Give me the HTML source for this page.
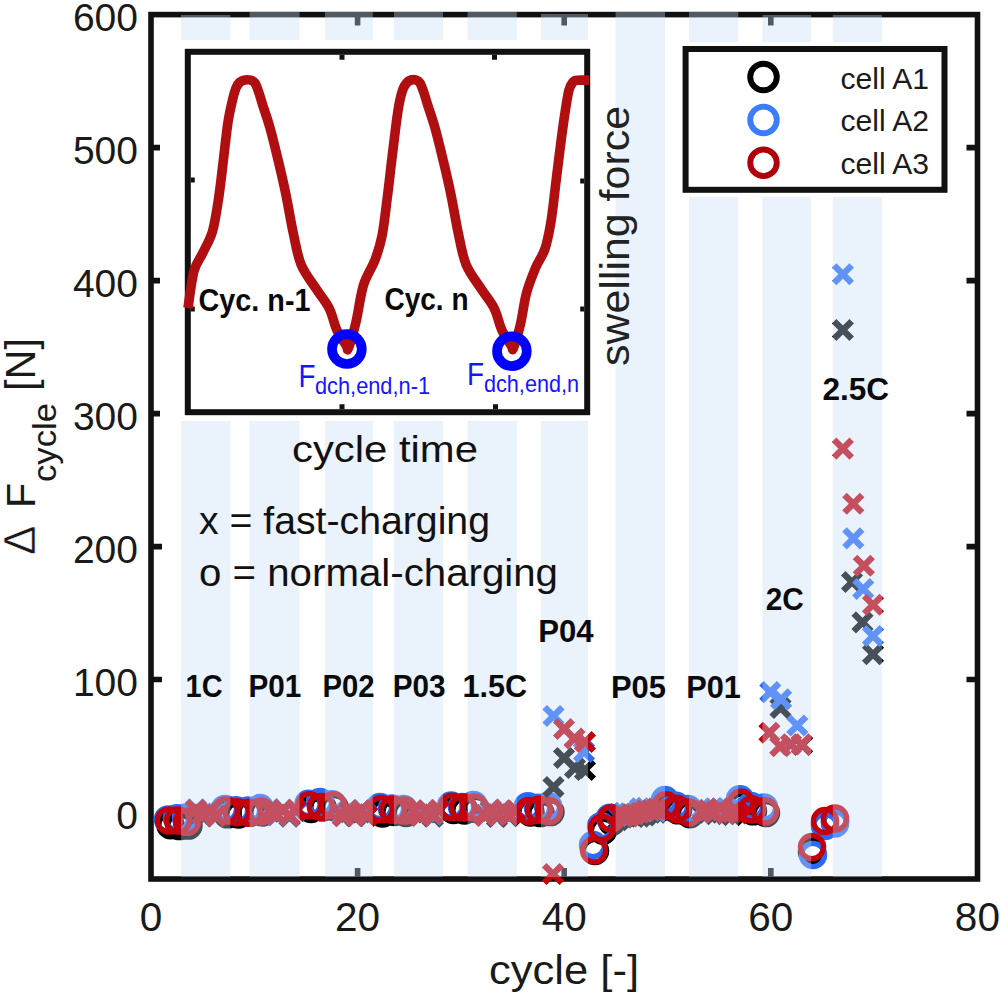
<!DOCTYPE html>
<html><head><meta charset="utf-8"><style>
html,body{margin:0;padding:0;background:#fff;width:1000px;height:999px;overflow:hidden}
svg{display:block}
text{font-family:"Liberation Sans", sans-serif}
</style></head><body>
<svg width="1000" height="999" viewBox="0 0 1000 999">
<rect width="1000" height="999" fill="#fff"/>
<rect x="151" y="14.6" width="826.5" height="864.4" fill="none" stroke="#111" stroke-width="5.6"/>
<path d="M151 679.5h11M977.5 679.5h-11M151 546.6h11M977.5 546.6h-11M151 413.6h11M977.5 413.6h-11M151 280.6h11M977.5 280.6h-11M151 147.6h11M977.5 147.6h-11M357.6 879v-11M357.6 14.6v11M564.2 879v-11M564.2 14.6v11M770.8 879v-11M770.8 14.6v11" stroke="#111" stroke-width="5.6"/>
<circle cx="170.5" cy="825.2" r="11.6" fill="none" stroke="#000000" stroke-width="5.3"/>
<circle cx="179.5" cy="826.1" r="11.6" fill="none" stroke="#000000" stroke-width="5.3"/>
<circle cx="188.5" cy="825.6" r="11.6" fill="none" stroke="#000000" stroke-width="5.3"/>
<circle cx="227.5" cy="814.3" r="11.6" fill="none" stroke="#000000" stroke-width="5.3"/>
<circle cx="238.5" cy="814.4" r="11.6" fill="none" stroke="#000000" stroke-width="5.3"/>
<circle cx="250.5" cy="812.7" r="11.6" fill="none" stroke="#000000" stroke-width="5.3"/>
<circle cx="262.5" cy="812.5" r="11.6" fill="none" stroke="#000000" stroke-width="5.3"/>
<circle cx="311.0" cy="809.0" r="11.6" fill="none" stroke="#000000" stroke-width="5.3"/>
<circle cx="322.5" cy="807.3" r="11.6" fill="none" stroke="#000000" stroke-width="5.3"/>
<circle cx="334.5" cy="807.2" r="11.6" fill="none" stroke="#000000" stroke-width="5.3"/>
<circle cx="382.5" cy="813.5" r="11.6" fill="none" stroke="#000000" stroke-width="5.3"/>
<circle cx="394.5" cy="811.9" r="11.6" fill="none" stroke="#000000" stroke-width="5.3"/>
<circle cx="406.0" cy="813.0" r="11.6" fill="none" stroke="#000000" stroke-width="5.3"/>
<circle cx="453.5" cy="809.9" r="11.6" fill="none" stroke="#000000" stroke-width="5.3"/>
<circle cx="464.5" cy="810.4" r="11.6" fill="none" stroke="#000000" stroke-width="5.3"/>
<circle cx="476.0" cy="809.0" r="11.6" fill="none" stroke="#000000" stroke-width="5.3"/>
<circle cx="530.5" cy="812.4" r="11.6" fill="none" stroke="#000000" stroke-width="5.3"/>
<circle cx="540.5" cy="813.1" r="11.6" fill="none" stroke="#000000" stroke-width="5.3"/>
<circle cx="550.5" cy="812.1" r="11.6" fill="none" stroke="#000000" stroke-width="5.3"/>
<path d="M187.2 803.2L204.8 820.8M187.2 820.8L204.8 803.2" stroke="#000000" stroke-width="6.4" stroke-linecap="butt"/>
<path d="M193.9 807.4L211.5 825.0M193.9 825.0L211.5 807.4" stroke="#000000" stroke-width="6.4" stroke-linecap="butt"/>
<path d="M200.5 801.6L218.1 819.2M200.5 819.2L218.1 801.6" stroke="#000000" stroke-width="6.4" stroke-linecap="butt"/>
<path d="M207.2 807.6L224.8 825.2M207.2 825.2L224.8 807.6" stroke="#000000" stroke-width="6.4" stroke-linecap="butt"/>
<path d="M261.2 802.8L278.8 820.4M261.2 820.4L278.8 802.8" stroke="#000000" stroke-width="6.4" stroke-linecap="butt"/>
<path d="M267.7 806.5L285.3 824.1M267.7 824.1L285.3 806.5" stroke="#000000" stroke-width="6.4" stroke-linecap="butt"/>
<path d="M274.2 801.5L291.8 819.1M274.2 819.1L291.8 801.5" stroke="#000000" stroke-width="6.4" stroke-linecap="butt"/>
<path d="M280.7 807.9L298.3 825.5M280.7 825.5L298.3 807.9" stroke="#000000" stroke-width="6.4" stroke-linecap="butt"/>
<path d="M287.2 802.5L304.8 820.1M287.2 820.1L304.8 802.5" stroke="#000000" stroke-width="6.4" stroke-linecap="butt"/>
<path d="M334.2 807.5L351.8 825.1M334.2 825.1L351.8 807.5" stroke="#000000" stroke-width="6.4" stroke-linecap="butt"/>
<path d="M340.2 803.5L357.8 821.1M340.2 821.1L357.8 803.5" stroke="#000000" stroke-width="6.4" stroke-linecap="butt"/>
<path d="M346.2 807.5L363.8 825.1M346.2 825.1L363.8 807.5" stroke="#000000" stroke-width="6.4" stroke-linecap="butt"/>
<path d="M352.2 803.6L369.8 821.2M352.2 821.2L369.8 803.6" stroke="#000000" stroke-width="6.4" stroke-linecap="butt"/>
<path d="M358.2 806.7L375.8 824.3M358.2 824.3L375.8 806.7" stroke="#000000" stroke-width="6.4" stroke-linecap="butt"/>
<path d="M405.2 803.3L422.8 820.9M405.2 820.9L422.8 803.3" stroke="#000000" stroke-width="6.4" stroke-linecap="butt"/>
<path d="M411.4 806.9L429.1 824.5M411.4 824.5L429.1 806.9" stroke="#000000" stroke-width="6.4" stroke-linecap="butt"/>
<path d="M417.7 803.6L435.3 821.2M417.7 821.2L435.3 803.6" stroke="#000000" stroke-width="6.4" stroke-linecap="butt"/>
<path d="M423.9 807.9L441.6 825.5M423.9 825.5L441.6 807.9" stroke="#000000" stroke-width="6.4" stroke-linecap="butt"/>
<path d="M430.2 801.6L447.8 819.2M430.2 819.2L447.8 801.6" stroke="#000000" stroke-width="6.4" stroke-linecap="butt"/>
<path d="M476.2 806.1L493.8 823.7M476.2 823.7L493.8 806.1" stroke="#000000" stroke-width="6.4" stroke-linecap="butt"/>
<path d="M482.2 801.9L499.8 819.5M482.2 819.5L499.8 801.9" stroke="#000000" stroke-width="6.4" stroke-linecap="butt"/>
<path d="M488.2 808.1L505.8 825.7M488.2 825.7L505.8 808.1" stroke="#000000" stroke-width="6.4" stroke-linecap="butt"/>
<path d="M494.2 802.4L511.8 820.0M494.2 820.0L511.8 802.4" stroke="#000000" stroke-width="6.4" stroke-linecap="butt"/>
<path d="M500.2 807.3L517.8 824.9M500.2 824.9L517.8 807.3" stroke="#000000" stroke-width="6.4" stroke-linecap="butt"/>
<path d="M506.2 802.1L523.8 819.7M506.2 819.7L523.8 802.1" stroke="#000000" stroke-width="6.4" stroke-linecap="butt"/>
<circle cx="595.0" cy="851.0" r="11.6" fill="none" stroke="#000000" stroke-width="5.3"/>
<circle cx="603.0" cy="830.7" r="11.6" fill="none" stroke="#000000" stroke-width="5.3"/>
<circle cx="612.0" cy="821.6" r="11.6" fill="none" stroke="#000000" stroke-width="5.3"/>
<circle cx="667.0" cy="806.3" r="11.6" fill="none" stroke="#000000" stroke-width="5.3"/>
<circle cx="678.0" cy="810.3" r="11.6" fill="none" stroke="#000000" stroke-width="5.3"/>
<circle cx="690.0" cy="814.2" r="11.6" fill="none" stroke="#000000" stroke-width="5.3"/>
<circle cx="742.0" cy="805.5" r="11.6" fill="none" stroke="#000000" stroke-width="5.3"/>
<circle cx="753.0" cy="811.3" r="11.6" fill="none" stroke="#000000" stroke-width="5.3"/>
<circle cx="766.0" cy="813.1" r="11.6" fill="none" stroke="#000000" stroke-width="5.3"/>
<path d="M609.2 811.3L626.8 828.9M609.2 828.9L626.8 811.3" stroke="#000000" stroke-width="6.4" stroke-linecap="butt"/>
<path d="M614.7 808.6L632.3 826.2M614.7 826.2L632.3 808.6" stroke="#000000" stroke-width="6.4" stroke-linecap="butt"/>
<path d="M620.2 804.7L637.8 822.3M620.2 822.3L637.8 804.7" stroke="#000000" stroke-width="6.4" stroke-linecap="butt"/>
<path d="M625.7 808.1L643.3 825.7M625.7 825.7L643.3 808.1" stroke="#000000" stroke-width="6.4" stroke-linecap="butt"/>
<path d="M631.2 807.9L648.8 825.5M631.2 825.5L648.8 807.9" stroke="#000000" stroke-width="6.4" stroke-linecap="butt"/>
<path d="M636.7 806.7L654.3 824.3M636.7 824.3L654.3 806.7" stroke="#000000" stroke-width="6.4" stroke-linecap="butt"/>
<path d="M642.2 803.9L659.8 821.5M642.2 821.5L659.8 803.9" stroke="#000000" stroke-width="6.4" stroke-linecap="butt"/>
<path d="M647.7 803.9L665.3 821.5M647.7 821.5L665.3 803.9" stroke="#000000" stroke-width="6.4" stroke-linecap="butt"/>
<path d="M653.2 801.7L670.8 819.3M653.2 819.3L670.8 801.7" stroke="#000000" stroke-width="6.4" stroke-linecap="butt"/>
<path d="M693.2 805.4L710.8 823.0M693.2 823.0L710.8 805.4" stroke="#000000" stroke-width="6.4" stroke-linecap="butt"/>
<path d="M699.2 803.8L716.8 821.4M699.2 821.4L716.8 803.8" stroke="#000000" stroke-width="6.4" stroke-linecap="butt"/>
<path d="M705.2 802.1L722.8 819.7M705.2 819.7L722.8 802.1" stroke="#000000" stroke-width="6.4" stroke-linecap="butt"/>
<path d="M711.2 800.8L728.8 818.4M711.2 818.4L728.8 800.8" stroke="#000000" stroke-width="6.4" stroke-linecap="butt"/>
<path d="M717.2 805.5L734.8 823.1M717.2 823.1L734.8 805.5" stroke="#000000" stroke-width="6.4" stroke-linecap="butt"/>
<path d="M723.2 806.3L740.8 823.9M723.2 823.9L740.8 806.3" stroke="#000000" stroke-width="6.4" stroke-linecap="butt"/>
<path d="M729.2 800.9L746.8 818.5M729.2 818.5L746.8 800.9" stroke="#000000" stroke-width="6.4" stroke-linecap="butt"/>
<circle cx="168.0" cy="819.4" r="11.6" fill="none" stroke="#2a6af5" stroke-width="5.3"/>
<circle cx="177.0" cy="818.2" r="11.6" fill="none" stroke="#2a6af5" stroke-width="5.3"/>
<circle cx="186.0" cy="817.5" r="11.6" fill="none" stroke="#2a6af5" stroke-width="5.3"/>
<circle cx="225.0" cy="808.9" r="11.6" fill="none" stroke="#2a6af5" stroke-width="5.3"/>
<circle cx="236.0" cy="810.3" r="11.6" fill="none" stroke="#2a6af5" stroke-width="5.3"/>
<circle cx="248.0" cy="810.6" r="11.6" fill="none" stroke="#2a6af5" stroke-width="5.3"/>
<circle cx="260.0" cy="808.1" r="11.6" fill="none" stroke="#2a6af5" stroke-width="5.3"/>
<circle cx="308.5" cy="803.8" r="11.6" fill="none" stroke="#2a6af5" stroke-width="5.3"/>
<circle cx="320.0" cy="802.1" r="11.6" fill="none" stroke="#2a6af5" stroke-width="5.3"/>
<circle cx="332.0" cy="804.2" r="11.6" fill="none" stroke="#2a6af5" stroke-width="5.3"/>
<circle cx="380.0" cy="807.0" r="11.6" fill="none" stroke="#2a6af5" stroke-width="5.3"/>
<circle cx="392.0" cy="808.6" r="11.6" fill="none" stroke="#2a6af5" stroke-width="5.3"/>
<circle cx="403.5" cy="808.9" r="11.6" fill="none" stroke="#2a6af5" stroke-width="5.3"/>
<circle cx="451.0" cy="805.5" r="11.6" fill="none" stroke="#2a6af5" stroke-width="5.3"/>
<circle cx="462.0" cy="807.0" r="11.6" fill="none" stroke="#2a6af5" stroke-width="5.3"/>
<circle cx="473.5" cy="804.9" r="11.6" fill="none" stroke="#2a6af5" stroke-width="5.3"/>
<circle cx="528.0" cy="806.2" r="11.6" fill="none" stroke="#2a6af5" stroke-width="5.3"/>
<circle cx="538.0" cy="807.8" r="11.6" fill="none" stroke="#2a6af5" stroke-width="5.3"/>
<circle cx="548.0" cy="806.1" r="11.6" fill="none" stroke="#2a6af5" stroke-width="5.3"/>
<path d="M187.2 800.5L204.8 818.1M187.2 818.1L204.8 800.5" stroke="#2a6af5" stroke-width="6.4" stroke-linecap="butt"/>
<path d="M193.9 805.4L211.5 823.0M193.9 823.0L211.5 805.4" stroke="#2a6af5" stroke-width="6.4" stroke-linecap="butt"/>
<path d="M200.5 801.5L218.1 819.1M200.5 819.1L218.1 801.5" stroke="#2a6af5" stroke-width="6.4" stroke-linecap="butt"/>
<path d="M207.2 804.8L224.8 822.4M207.2 822.4L224.8 804.8" stroke="#2a6af5" stroke-width="6.4" stroke-linecap="butt"/>
<path d="M261.2 800.2L278.8 817.8M261.2 817.8L278.8 800.2" stroke="#2a6af5" stroke-width="6.4" stroke-linecap="butt"/>
<path d="M267.7 806.5L285.3 824.1M267.7 824.1L285.3 806.5" stroke="#2a6af5" stroke-width="6.4" stroke-linecap="butt"/>
<path d="M274.2 800.8L291.8 818.4M274.2 818.4L291.8 800.8" stroke="#2a6af5" stroke-width="6.4" stroke-linecap="butt"/>
<path d="M280.7 806.8L298.3 824.4M280.7 824.4L298.3 806.8" stroke="#2a6af5" stroke-width="6.4" stroke-linecap="butt"/>
<path d="M287.2 802.2L304.8 819.8M287.2 819.8L304.8 802.2" stroke="#2a6af5" stroke-width="6.4" stroke-linecap="butt"/>
<path d="M334.2 805.4L351.8 823.0M334.2 823.0L351.8 805.4" stroke="#2a6af5" stroke-width="6.4" stroke-linecap="butt"/>
<path d="M340.2 801.2L357.8 818.8M340.2 818.8L357.8 801.2" stroke="#2a6af5" stroke-width="6.4" stroke-linecap="butt"/>
<path d="M346.2 805.7L363.8 823.3M346.2 823.3L363.8 805.7" stroke="#2a6af5" stroke-width="6.4" stroke-linecap="butt"/>
<path d="M352.2 801.6L369.8 819.2M352.2 819.2L369.8 801.6" stroke="#2a6af5" stroke-width="6.4" stroke-linecap="butt"/>
<path d="M358.2 805.9L375.8 823.5M358.2 823.5L375.8 805.9" stroke="#2a6af5" stroke-width="6.4" stroke-linecap="butt"/>
<path d="M405.2 801.4L422.8 819.0M405.2 819.0L422.8 801.4" stroke="#2a6af5" stroke-width="6.4" stroke-linecap="butt"/>
<path d="M411.4 805.9L429.1 823.5M411.4 823.5L429.1 805.9" stroke="#2a6af5" stroke-width="6.4" stroke-linecap="butt"/>
<path d="M417.7 802.3L435.3 819.9M417.7 819.9L435.3 802.3" stroke="#2a6af5" stroke-width="6.4" stroke-linecap="butt"/>
<path d="M423.9 805.7L441.6 823.3M423.9 823.3L441.6 805.7" stroke="#2a6af5" stroke-width="6.4" stroke-linecap="butt"/>
<path d="M430.2 801.1L447.8 818.7M430.2 818.7L447.8 801.1" stroke="#2a6af5" stroke-width="6.4" stroke-linecap="butt"/>
<path d="M476.2 806.2L493.8 823.8M476.2 823.8L493.8 806.2" stroke="#2a6af5" stroke-width="6.4" stroke-linecap="butt"/>
<path d="M482.2 800.6L499.8 818.2M482.2 818.2L499.8 800.6" stroke="#2a6af5" stroke-width="6.4" stroke-linecap="butt"/>
<path d="M488.2 805.2L505.8 822.8M488.2 822.8L505.8 805.2" stroke="#2a6af5" stroke-width="6.4" stroke-linecap="butt"/>
<path d="M494.2 802.4L511.8 820.0M494.2 820.0L511.8 802.4" stroke="#2a6af5" stroke-width="6.4" stroke-linecap="butt"/>
<path d="M500.2 805.7L517.8 823.3M500.2 823.3L517.8 805.7" stroke="#2a6af5" stroke-width="6.4" stroke-linecap="butt"/>
<path d="M506.2 801.4L523.8 819.0M506.2 819.0L523.8 801.4" stroke="#2a6af5" stroke-width="6.4" stroke-linecap="butt"/>
<circle cx="593.0" cy="845.0" r="11.6" fill="none" stroke="#2a6af5" stroke-width="5.3"/>
<circle cx="601.0" cy="826.2" r="11.6" fill="none" stroke="#2a6af5" stroke-width="5.3"/>
<circle cx="610.0" cy="817.7" r="11.6" fill="none" stroke="#2a6af5" stroke-width="5.3"/>
<circle cx="665.0" cy="800.1" r="11.6" fill="none" stroke="#2a6af5" stroke-width="5.3"/>
<circle cx="676.0" cy="805.8" r="11.6" fill="none" stroke="#2a6af5" stroke-width="5.3"/>
<circle cx="688.0" cy="808.9" r="11.6" fill="none" stroke="#2a6af5" stroke-width="5.3"/>
<circle cx="740.0" cy="799.2" r="11.6" fill="none" stroke="#2a6af5" stroke-width="5.3"/>
<circle cx="751.0" cy="805.9" r="11.6" fill="none" stroke="#2a6af5" stroke-width="5.3"/>
<circle cx="764.0" cy="807.4" r="11.6" fill="none" stroke="#2a6af5" stroke-width="5.3"/>
<path d="M609.2 806.8L626.8 824.4M609.2 824.4L626.8 806.8" stroke="#2a6af5" stroke-width="6.4" stroke-linecap="butt"/>
<path d="M614.7 804.0L632.3 821.6M614.7 821.6L632.3 804.0" stroke="#2a6af5" stroke-width="6.4" stroke-linecap="butt"/>
<path d="M620.2 805.3L637.8 822.9M620.2 822.9L637.8 805.3" stroke="#2a6af5" stroke-width="6.4" stroke-linecap="butt"/>
<path d="M625.7 804.7L643.3 822.3M625.7 822.3L643.3 804.7" stroke="#2a6af5" stroke-width="6.4" stroke-linecap="butt"/>
<path d="M631.2 799.5L648.8 817.1M631.2 817.1L648.8 799.5" stroke="#2a6af5" stroke-width="6.4" stroke-linecap="butt"/>
<path d="M636.7 798.9L654.3 816.5M636.7 816.5L654.3 798.9" stroke="#2a6af5" stroke-width="6.4" stroke-linecap="butt"/>
<path d="M642.2 801.8L659.8 819.4M642.2 819.4L659.8 801.8" stroke="#2a6af5" stroke-width="6.4" stroke-linecap="butt"/>
<path d="M647.7 802.7L665.3 820.3M647.7 820.3L665.3 802.7" stroke="#2a6af5" stroke-width="6.4" stroke-linecap="butt"/>
<path d="M653.2 799.2L670.8 816.8M653.2 816.8L670.8 799.2" stroke="#2a6af5" stroke-width="6.4" stroke-linecap="butt"/>
<path d="M693.2 800.4L710.8 818.0M693.2 818.0L710.8 800.4" stroke="#2a6af5" stroke-width="6.4" stroke-linecap="butt"/>
<path d="M699.2 801.3L716.8 818.9M699.2 818.9L716.8 801.3" stroke="#2a6af5" stroke-width="6.4" stroke-linecap="butt"/>
<path d="M705.2 799.6L722.8 817.2M705.2 817.2L722.8 799.6" stroke="#2a6af5" stroke-width="6.4" stroke-linecap="butt"/>
<path d="M711.2 799.9L728.8 817.5M711.2 817.5L728.8 799.9" stroke="#2a6af5" stroke-width="6.4" stroke-linecap="butt"/>
<path d="M717.2 799.6L734.8 817.2M717.2 817.2L734.8 799.6" stroke="#2a6af5" stroke-width="6.4" stroke-linecap="butt"/>
<path d="M723.2 799.9L740.8 817.5M723.2 817.5L740.8 799.9" stroke="#2a6af5" stroke-width="6.4" stroke-linecap="butt"/>
<path d="M729.2 801.3L746.8 818.9M729.2 818.9L746.8 801.3" stroke="#2a6af5" stroke-width="6.4" stroke-linecap="butt"/>
<circle cx="169.0" cy="820.4" r="11.6" fill="none" stroke="#c4000a" stroke-width="5.3"/>
<circle cx="178.0" cy="820.6" r="11.6" fill="none" stroke="#c4000a" stroke-width="5.3"/>
<circle cx="187.0" cy="821.8" r="11.6" fill="none" stroke="#c4000a" stroke-width="5.3"/>
<circle cx="226.0" cy="810.6" r="11.6" fill="none" stroke="#c4000a" stroke-width="5.3"/>
<circle cx="237.0" cy="812.2" r="11.6" fill="none" stroke="#c4000a" stroke-width="5.3"/>
<circle cx="249.0" cy="812.7" r="11.6" fill="none" stroke="#c4000a" stroke-width="5.3"/>
<circle cx="261.0" cy="811.4" r="11.6" fill="none" stroke="#c4000a" stroke-width="5.3"/>
<circle cx="309.5" cy="805.2" r="11.6" fill="none" stroke="#c4000a" stroke-width="5.3"/>
<circle cx="321.0" cy="806.9" r="11.6" fill="none" stroke="#c4000a" stroke-width="5.3"/>
<circle cx="333.0" cy="805.2" r="11.6" fill="none" stroke="#c4000a" stroke-width="5.3"/>
<circle cx="381.0" cy="809.1" r="11.6" fill="none" stroke="#c4000a" stroke-width="5.3"/>
<circle cx="393.0" cy="809.8" r="11.6" fill="none" stroke="#c4000a" stroke-width="5.3"/>
<circle cx="404.5" cy="810.6" r="11.6" fill="none" stroke="#c4000a" stroke-width="5.3"/>
<circle cx="452.0" cy="806.8" r="11.6" fill="none" stroke="#c4000a" stroke-width="5.3"/>
<circle cx="463.0" cy="807.5" r="11.6" fill="none" stroke="#c4000a" stroke-width="5.3"/>
<circle cx="474.5" cy="807.5" r="11.6" fill="none" stroke="#c4000a" stroke-width="5.3"/>
<circle cx="529.0" cy="811.0" r="11.6" fill="none" stroke="#c4000a" stroke-width="5.3"/>
<circle cx="539.0" cy="809.8" r="11.6" fill="none" stroke="#c4000a" stroke-width="5.3"/>
<circle cx="549.0" cy="811.1" r="11.6" fill="none" stroke="#c4000a" stroke-width="5.3"/>
<path d="M187.2 801.2L204.8 818.8M187.2 818.8L204.8 801.2" stroke="#c4000a" stroke-width="6.4" stroke-linecap="butt"/>
<path d="M193.9 806.0L211.5 823.6M193.9 823.6L211.5 806.0" stroke="#c4000a" stroke-width="6.4" stroke-linecap="butt"/>
<path d="M200.5 802.4L218.1 820.0M200.5 820.0L218.1 802.4" stroke="#c4000a" stroke-width="6.4" stroke-linecap="butt"/>
<path d="M207.2 807.3L224.8 824.9M207.2 824.9L224.8 807.3" stroke="#c4000a" stroke-width="6.4" stroke-linecap="butt"/>
<path d="M261.2 801.9L278.8 819.5M261.2 819.5L278.8 801.9" stroke="#c4000a" stroke-width="6.4" stroke-linecap="butt"/>
<path d="M267.7 805.7L285.3 823.3M267.7 823.3L285.3 805.7" stroke="#c4000a" stroke-width="6.4" stroke-linecap="butt"/>
<path d="M274.2 801.1L291.8 818.7M274.2 818.7L291.8 801.1" stroke="#c4000a" stroke-width="6.4" stroke-linecap="butt"/>
<path d="M280.7 806.5L298.3 824.1M280.7 824.1L298.3 806.5" stroke="#c4000a" stroke-width="6.4" stroke-linecap="butt"/>
<path d="M287.2 801.3L304.8 818.9M287.2 818.9L304.8 801.3" stroke="#c4000a" stroke-width="6.4" stroke-linecap="butt"/>
<path d="M334.2 807.1L351.8 824.7M334.2 824.7L351.8 807.1" stroke="#c4000a" stroke-width="6.4" stroke-linecap="butt"/>
<path d="M340.2 802.8L357.8 820.4M340.2 820.4L357.8 802.8" stroke="#c4000a" stroke-width="6.4" stroke-linecap="butt"/>
<path d="M346.2 805.6L363.8 823.2M346.2 823.2L363.8 805.6" stroke="#c4000a" stroke-width="6.4" stroke-linecap="butt"/>
<path d="M352.2 801.5L369.8 819.1M352.2 819.1L369.8 801.5" stroke="#c4000a" stroke-width="6.4" stroke-linecap="butt"/>
<path d="M358.2 807.1L375.8 824.7M358.2 824.7L375.8 807.1" stroke="#c4000a" stroke-width="6.4" stroke-linecap="butt"/>
<path d="M405.2 802.3L422.8 819.9M405.2 819.9L422.8 802.3" stroke="#c4000a" stroke-width="6.4" stroke-linecap="butt"/>
<path d="M411.4 807.1L429.1 824.7M411.4 824.7L429.1 807.1" stroke="#c4000a" stroke-width="6.4" stroke-linecap="butt"/>
<path d="M417.7 801.6L435.3 819.2M417.7 819.2L435.3 801.6" stroke="#c4000a" stroke-width="6.4" stroke-linecap="butt"/>
<path d="M423.9 805.5L441.6 823.1M423.9 823.1L441.6 805.5" stroke="#c4000a" stroke-width="6.4" stroke-linecap="butt"/>
<path d="M430.2 801.5L447.8 819.1M430.2 819.1L447.8 801.5" stroke="#c4000a" stroke-width="6.4" stroke-linecap="butt"/>
<path d="M476.2 807.1L493.8 824.7M476.2 824.7L493.8 807.1" stroke="#c4000a" stroke-width="6.4" stroke-linecap="butt"/>
<path d="M482.2 801.5L499.8 819.1M482.2 819.1L499.8 801.5" stroke="#c4000a" stroke-width="6.4" stroke-linecap="butt"/>
<path d="M488.2 806.0L505.8 823.6M488.2 823.6L505.8 806.0" stroke="#c4000a" stroke-width="6.4" stroke-linecap="butt"/>
<path d="M494.2 801.8L511.8 819.4M494.2 819.4L511.8 801.8" stroke="#c4000a" stroke-width="6.4" stroke-linecap="butt"/>
<path d="M500.2 806.2L517.8 823.8M500.2 823.8L517.8 806.2" stroke="#c4000a" stroke-width="6.4" stroke-linecap="butt"/>
<path d="M506.2 801.8L523.8 819.4M506.2 819.4L523.8 801.8" stroke="#c4000a" stroke-width="6.4" stroke-linecap="butt"/>
<circle cx="594.0" cy="850.3" r="11.6" fill="none" stroke="#c4000a" stroke-width="5.3"/>
<circle cx="602.0" cy="828.0" r="11.6" fill="none" stroke="#c4000a" stroke-width="5.3"/>
<circle cx="611.0" cy="818.5" r="11.6" fill="none" stroke="#c4000a" stroke-width="5.3"/>
<circle cx="666.0" cy="805.3" r="11.6" fill="none" stroke="#c4000a" stroke-width="5.3"/>
<circle cx="677.0" cy="809.1" r="11.6" fill="none" stroke="#c4000a" stroke-width="5.3"/>
<circle cx="689.0" cy="812.5" r="11.6" fill="none" stroke="#c4000a" stroke-width="5.3"/>
<circle cx="741.0" cy="802.8" r="11.6" fill="none" stroke="#c4000a" stroke-width="5.3"/>
<circle cx="752.0" cy="809.4" r="11.6" fill="none" stroke="#c4000a" stroke-width="5.3"/>
<circle cx="765.0" cy="811.3" r="11.6" fill="none" stroke="#c4000a" stroke-width="5.3"/>
<path d="M609.2 805.5L626.8 823.1M609.2 823.1L626.8 805.5" stroke="#c4000a" stroke-width="6.4" stroke-linecap="butt"/>
<path d="M614.7 807.8L632.3 825.4M614.7 825.4L632.3 807.8" stroke="#c4000a" stroke-width="6.4" stroke-linecap="butt"/>
<path d="M620.2 807.6L637.8 825.2M620.2 825.2L637.8 807.6" stroke="#c4000a" stroke-width="6.4" stroke-linecap="butt"/>
<path d="M625.7 805.7L643.3 823.3M625.7 823.3L643.3 805.7" stroke="#c4000a" stroke-width="6.4" stroke-linecap="butt"/>
<path d="M631.2 804.0L648.8 821.6M631.2 821.6L648.8 804.0" stroke="#c4000a" stroke-width="6.4" stroke-linecap="butt"/>
<path d="M636.7 801.8L654.3 819.4M636.7 819.4L654.3 801.8" stroke="#c4000a" stroke-width="6.4" stroke-linecap="butt"/>
<path d="M642.2 801.3L659.8 818.9M642.2 818.9L659.8 801.3" stroke="#c4000a" stroke-width="6.4" stroke-linecap="butt"/>
<path d="M647.7 799.8L665.3 817.4M647.7 817.4L665.3 799.8" stroke="#c4000a" stroke-width="6.4" stroke-linecap="butt"/>
<path d="M653.2 799.6L670.8 817.2M653.2 817.2L670.8 799.6" stroke="#c4000a" stroke-width="6.4" stroke-linecap="butt"/>
<path d="M693.2 802.7L710.8 820.3M693.2 820.3L710.8 802.7" stroke="#c4000a" stroke-width="6.4" stroke-linecap="butt"/>
<path d="M699.2 800.9L716.8 818.5M699.2 818.5L716.8 800.9" stroke="#c4000a" stroke-width="6.4" stroke-linecap="butt"/>
<path d="M705.2 804.1L722.8 821.7M705.2 821.7L722.8 804.1" stroke="#c4000a" stroke-width="6.4" stroke-linecap="butt"/>
<path d="M711.2 799.5L728.8 817.1M711.2 817.1L728.8 799.5" stroke="#c4000a" stroke-width="6.4" stroke-linecap="butt"/>
<path d="M717.2 804.6L734.8 822.2M717.2 822.2L734.8 804.6" stroke="#c4000a" stroke-width="6.4" stroke-linecap="butt"/>
<path d="M723.2 803.4L740.8 821.0M723.2 821.0L740.8 803.4" stroke="#c4000a" stroke-width="6.4" stroke-linecap="butt"/>
<path d="M729.2 804.7L746.8 822.3M729.2 822.3L746.8 804.7" stroke="#c4000a" stroke-width="6.4" stroke-linecap="butt"/>
<path d="M544.7 778.2L562.3 795.8M544.7 795.8L562.3 778.2" stroke="#000000" stroke-width="6.4" stroke-linecap="butt"/>
<path d="M555.2 749.2L572.8 766.8M555.2 766.8L572.8 749.2" stroke="#000000" stroke-width="6.4" stroke-linecap="butt"/>
<path d="M566.2 759.2L583.8 776.8M566.2 776.8L583.8 759.2" stroke="#000000" stroke-width="6.4" stroke-linecap="butt"/>
<path d="M576.2 761.2L593.8 778.8M576.2 778.8L593.8 761.2" stroke="#000000" stroke-width="6.4" stroke-linecap="butt"/>
<path d="M544.7 707.2L562.3 724.8M544.7 724.8L562.3 707.2" stroke="#2a6af5" stroke-width="6.4" stroke-linecap="butt"/>
<path d="M575.2 743.2L592.8 760.8M575.2 760.8L592.8 743.2" stroke="#2a6af5" stroke-width="6.4" stroke-linecap="butt"/>
<path d="M555.2 720.2L572.8 737.8M555.2 737.8L572.8 720.2" stroke="#c4000a" stroke-width="6.4" stroke-linecap="butt"/>
<path d="M565.7 729.7L583.3 747.3M565.7 747.3L583.3 729.7" stroke="#c4000a" stroke-width="6.4" stroke-linecap="butt"/>
<path d="M576.2 733.2L593.8 750.8M576.2 750.8L593.8 733.2" stroke="#c4000a" stroke-width="6.4" stroke-linecap="butt"/>
<path d="M544.2 865.2L561.8 882.8M544.2 882.8L561.8 865.2" stroke="#c4000a" stroke-width="6.4" stroke-linecap="butt"/>
<path d="M771.7 699.2L789.3 716.8M771.7 716.8L789.3 699.2" stroke="#000000" stroke-width="6.4" stroke-linecap="butt"/>
<path d="M793.2 736.2L810.8 753.8M793.2 753.8L810.8 736.2" stroke="#000000" stroke-width="6.4" stroke-linecap="butt"/>
<path d="M761.5 683.3L779.1 700.9M761.5 700.9L779.1 683.3" stroke="#2a6af5" stroke-width="6.4" stroke-linecap="butt"/>
<path d="M772.3 690.5L789.9 708.1M772.3 708.1L789.9 690.5" stroke="#2a6af5" stroke-width="6.4" stroke-linecap="butt"/>
<path d="M788.5 716.7L806.1 734.3M788.5 734.3L806.1 716.7" stroke="#2a6af5" stroke-width="6.4" stroke-linecap="butt"/>
<path d="M760.6 723.9L778.2 741.5M760.6 741.5L778.2 723.9" stroke="#c4000a" stroke-width="6.4" stroke-linecap="butt"/>
<path d="M771.4 737.4L789.0 755.0M771.4 755.0L789.0 737.4" stroke="#c4000a" stroke-width="6.4" stroke-linecap="butt"/>
<path d="M782.2 735.6L799.8 753.2M782.2 753.2L799.8 735.6" stroke="#c4000a" stroke-width="6.4" stroke-linecap="butt"/>
<path d="M793.0 735.6L810.6 753.2M793.0 753.2L810.6 735.6" stroke="#c4000a" stroke-width="6.4" stroke-linecap="butt"/>
<path d="M834.1 321.2L851.7 338.8M834.1 338.8L851.7 321.2" stroke="#000000" stroke-width="6.4" stroke-linecap="butt"/>
<path d="M843.2 573.2L860.8 590.8M843.2 590.8L860.8 573.2" stroke="#000000" stroke-width="6.4" stroke-linecap="butt"/>
<path d="M853.7 613.6L871.3 631.2M853.7 631.2L871.3 613.6" stroke="#000000" stroke-width="6.4" stroke-linecap="butt"/>
<path d="M864.2 645.4L881.8 663.0M864.2 663.0L881.8 645.4" stroke="#000000" stroke-width="6.4" stroke-linecap="butt"/>
<path d="M834.1 265.4L851.7 283.0M834.1 283.0L851.7 265.4" stroke="#2a6af5" stroke-width="6.4" stroke-linecap="butt"/>
<path d="M844.5 529.6L862.1 547.2M844.5 547.2L862.1 529.6" stroke="#2a6af5" stroke-width="6.4" stroke-linecap="butt"/>
<path d="M854.4 580.2L872.0 597.8M854.4 597.8L872.0 580.2" stroke="#2a6af5" stroke-width="6.4" stroke-linecap="butt"/>
<path d="M864.2 627.2L881.8 644.8M864.2 644.8L881.8 627.2" stroke="#2a6af5" stroke-width="6.4" stroke-linecap="butt"/>
<path d="M834.1 439.8L851.7 457.4M834.1 457.4L851.7 439.8" stroke="#c4000a" stroke-width="6.4" stroke-linecap="butt"/>
<path d="M844.5 495.0L862.1 512.6M844.5 512.6L862.1 495.0" stroke="#c4000a" stroke-width="6.4" stroke-linecap="butt"/>
<path d="M855.0 556.9L872.6 574.5M855.0 574.5L872.6 556.9" stroke="#c4000a" stroke-width="6.4" stroke-linecap="butt"/>
<path d="M864.2 595.9L881.8 613.5M864.2 613.5L881.8 595.9" stroke="#c4000a" stroke-width="6.4" stroke-linecap="butt"/>
<circle cx="812.0" cy="851.8" r="11.6" fill="none" stroke="#000000" stroke-width="5.3"/>
<circle cx="825.0" cy="824.0" r="11.6" fill="none" stroke="#000000" stroke-width="5.3"/>
<circle cx="835.0" cy="821.5" r="11.6" fill="none" stroke="#000000" stroke-width="5.3"/>
<circle cx="813.0" cy="855.0" r="11.6" fill="none" stroke="#2a6af5" stroke-width="5.3"/>
<circle cx="825.0" cy="826.0" r="11.6" fill="none" stroke="#2a6af5" stroke-width="5.3"/>
<circle cx="835.0" cy="823.5" r="11.6" fill="none" stroke="#2a6af5" stroke-width="5.3"/>
<circle cx="812.0" cy="847.0" r="11.6" fill="none" stroke="#c4000a" stroke-width="5.3"/>
<circle cx="825.0" cy="821.0" r="11.6" fill="none" stroke="#c4000a" stroke-width="5.3"/>
<circle cx="835.0" cy="818.5" r="11.6" fill="none" stroke="#c4000a" stroke-width="5.3"/>
<rect x="181" y="15" width="49.4" height="862" fill="rgba(196,219,246,0.36)"/>
<rect x="249.6" y="12" width="50.0" height="865" fill="rgba(196,219,246,0.36)"/>
<rect x="325" y="12" width="47.8" height="865" fill="rgba(196,219,246,0.36)"/>
<rect x="394" y="12" width="49.0" height="865" fill="rgba(196,219,246,0.36)"/>
<rect x="467.6" y="12" width="49.2" height="865" fill="rgba(196,219,246,0.36)"/>
<rect x="541" y="14" width="47.0" height="863" fill="rgba(196,219,246,0.36)"/>
<rect x="615.6" y="12" width="49.4" height="865" fill="rgba(196,219,246,0.36)"/>
<rect x="689" y="12" width="49.2" height="865" fill="rgba(196,219,246,0.36)"/>
<rect x="762.5" y="15" width="48.7" height="862" fill="rgba(196,219,246,0.36)"/>
<rect x="832.8" y="15" width="49.2" height="862" fill="rgba(196,219,246,0.36)"/>
<rect x="160" y="40" width="440" height="381" fill="#fff"/>
<rect x="187.8" y="51.8" width="399.4" height="360.4" fill="none" stroke="#111" stroke-width="6"/>
<path d="M342 54.8v5M494.5 54.8v5M342 409.2v-5M495.5 409.2v-5M190.8 180h4M190.8 309h4M584.2 181h-4M584.2 309h-4" stroke="#111" stroke-width="5"/>
<path d="M188.0 308.0C189.0 301.8 191.5 280.2 194.0 271.0C196.5 261.8 199.9 259.2 203.0 252.5C206.1 245.8 210.0 240.2 212.6 231.0C215.2 221.8 217.0 209.0 218.8 197.0C220.6 185.0 222.0 171.5 223.5 159.0C225.0 146.5 226.5 131.8 228.0 122.0C229.5 112.2 231.2 105.7 232.5 100.0C233.8 94.3 234.8 91.0 236.0 88.0C237.2 85.0 238.5 83.3 240.0 82.0C241.5 80.7 243.3 80.3 245.0 80.0C246.7 79.7 248.3 79.5 250.0 80.0C251.7 80.5 253.5 80.8 255.0 83.0C256.5 85.2 257.7 89.2 259.0 93.0C260.3 96.8 261.1 100.1 263.0 106.0C264.9 111.9 267.6 119.4 270.1 128.3C272.6 137.2 275.3 148.5 277.9 159.3C280.5 170.2 283.1 181.0 285.7 193.4C288.3 205.8 290.8 221.8 293.4 233.7C296.0 245.6 297.3 255.5 301.2 264.8C305.1 274.1 312.0 282.4 316.7 289.6C321.4 296.8 325.8 301.5 329.1 308.2C332.5 314.9 334.0 323.8 336.8 330.0C339.6 336.2 344.2 342.5 346.2 345.5C348.1 348.5 346.9 351.9 348.5 348.0C350.1 344.1 353.5 332.5 356.0 322.0C358.5 311.5 360.3 295.3 363.5 285.0C366.7 274.7 371.9 268.2 375.0 260.0C378.1 251.8 380.0 246.0 382.0 236.0C384.0 226.0 385.4 212.3 387.0 200.0C388.6 187.7 390.0 174.5 391.5 162.0C393.0 149.5 394.7 135.0 396.0 125.0C397.3 115.0 398.3 108.0 399.5 102.0C400.7 96.0 401.8 92.2 403.0 89.0C404.2 85.8 405.7 84.0 407.0 82.5C408.3 81.0 409.5 80.4 411.0 80.0C412.5 79.6 414.5 79.5 416.0 80.0C417.5 80.5 418.7 80.8 420.0 83.0C421.3 85.2 422.7 89.2 424.0 93.0C425.3 96.8 426.1 100.1 428.0 106.0C429.9 111.9 432.6 119.4 435.1 128.3C437.6 137.2 440.3 148.5 442.9 159.3C445.5 170.2 448.1 181.0 450.7 193.4C453.3 205.8 455.8 221.8 458.4 233.7C461.0 245.6 462.3 255.5 466.2 264.8C470.1 274.1 477.0 282.4 481.7 289.6C486.4 296.8 490.8 301.5 494.1 308.2C497.5 314.9 499.0 323.8 501.8 330.0C504.6 336.2 509.2 342.5 511.2 345.5C513.1 348.5 511.9 351.6 513.5 348.0C515.0 344.4 518.3 333.2 520.5 324.0C522.7 314.8 524.0 302.3 526.5 293.0C529.0 283.7 532.5 275.3 535.5 268.0C538.5 260.7 542.2 257.1 544.8 249.4C547.4 241.7 549.2 232.4 551.0 221.5C552.8 210.6 554.2 196.4 555.7 184.0C557.2 171.6 558.8 158.9 560.3 147.0C561.8 135.1 563.5 122.3 565.0 112.8C566.5 103.3 567.6 95.2 569.0 90.0C570.4 84.8 572.1 83.1 573.5 81.5C574.9 79.9 574.9 80.4 577.5 80.2C580.1 80.0 587.1 80.2 589.0 80.2" fill="none" stroke="#b00f12" stroke-width="9.6" stroke-linejoin="round"/>
<circle cx="346.9" cy="349.1" r="14.9" fill="none" stroke="#0000ff" stroke-width="9.7"/>
<circle cx="511.9" cy="351.2" r="14.9" fill="none" stroke="#0000ff" stroke-width="9.7"/>
<text x="198.5" y="310.5" font-size="32" font-weight="bold" text-anchor="start" fill="#0a0a0a" textLength="112" lengthAdjust="spacingAndGlyphs" >Cyc. n-1</text>
<text x="384.5" y="310.2" font-size="32" font-weight="bold" text-anchor="start" fill="#0a0a0a" textLength="84" lengthAdjust="spacingAndGlyphs" >Cyc. n</text>
<text x="298.5" y="386.5" font-size="31" font-weight="normal" text-anchor="start" fill="#1515ff" textLength="17" lengthAdjust="spacingAndGlyphs" >F</text>
<text x="315" y="393.5" font-size="24" font-weight="normal" text-anchor="start" fill="#1515ff" textLength="115" lengthAdjust="spacingAndGlyphs" >dch,end,n-1</text>
<text x="467" y="385" font-size="31" font-weight="normal" text-anchor="start" fill="#1515ff" textLength="17" lengthAdjust="spacingAndGlyphs" >F</text>
<text x="484" y="391.6" font-size="24" font-weight="normal" text-anchor="start" fill="#1515ff" textLength="95" lengthAdjust="spacingAndGlyphs" >dch,end,n</text>
<rect x="676" y="42" width="278" height="155" fill="#fff"/>
<rect x="685.6" y="49" width="258.9" height="140.8" fill="none" stroke="#111" stroke-width="6"/>
<circle cx="763.5" cy="77.0" r="13.3" fill="none" stroke="#000000" stroke-width="5.9"/>
<text x="840.5" y="88.5" font-size="29" font-weight="normal" text-anchor="start" fill="#1a1a1a" textLength="88.5" lengthAdjust="spacingAndGlyphs" >cell A1</text>
<circle cx="763.5" cy="119.9" r="13.3" fill="none" stroke="#3a7dff" stroke-width="5.9"/>
<text x="840.5" y="131.4" font-size="29" font-weight="normal" text-anchor="start" fill="#1a1a1a" textLength="88.5" lengthAdjust="spacingAndGlyphs" >cell A2</text>
<circle cx="763.5" cy="162.8" r="13.3" fill="none" stroke="#b0000a" stroke-width="5.9"/>
<text x="840.5" y="174.3" font-size="29" font-weight="normal" text-anchor="start" fill="#1a1a1a" textLength="88.5" lengthAdjust="spacingAndGlyphs" >cell A3</text>
<text x="138" y="828.7" font-size="39" font-weight="normal" text-anchor="end" fill="#1a1a1a" >0</text>
<text x="138" y="695.7" font-size="39" font-weight="normal" text-anchor="end" fill="#1a1a1a" >100</text>
<text x="138" y="562.8" font-size="39" font-weight="normal" text-anchor="end" fill="#1a1a1a" >200</text>
<text x="138" y="429.8" font-size="39" font-weight="normal" text-anchor="end" fill="#1a1a1a" >300</text>
<text x="138" y="296.8" font-size="39" font-weight="normal" text-anchor="end" fill="#1a1a1a" >400</text>
<text x="138" y="163.8" font-size="39" font-weight="normal" text-anchor="end" fill="#1a1a1a" >500</text>
<text x="138" y="30.9" font-size="39" font-weight="normal" text-anchor="end" fill="#1a1a1a" >600</text>
<text x="151.0" y="931" font-size="40.5" font-weight="normal" text-anchor="middle" fill="#1a1a1a" >0</text>
<text x="357.6" y="931" font-size="40.5" font-weight="normal" text-anchor="middle" fill="#1a1a1a" >20</text>
<text x="564.2" y="931" font-size="40.5" font-weight="normal" text-anchor="middle" fill="#1a1a1a" >40</text>
<text x="770.8" y="931" font-size="40.5" font-weight="normal" text-anchor="middle" fill="#1a1a1a" >60</text>
<text x="977.4" y="931" font-size="40.5" font-weight="normal" text-anchor="middle" fill="#1a1a1a" >80</text>
<text x="489" y="984" font-size="41" font-weight="normal" text-anchor="start" fill="#1a1a1a" textLength="150" lengthAdjust="spacingAndGlyphs" >cycle [-]</text>
<g transform="translate(35,0) rotate(-90)"><text x="-555" y="0" font-size="44" font-weight="normal" text-anchor="start" fill="#1a1a1a" stroke="#fff" stroke-width="0.6">Δ</text><text x="-508" y="0" font-size="41" font-weight="normal" text-anchor="start" fill="#1a1a1a" >F</text><text x="-482" y="21" font-size="34" font-weight="normal" text-anchor="start" fill="#1a1a1a" textLength="79" lengthAdjust="spacingAndGlyphs" >cycle</text><text x="-391" y="0" font-size="42" font-weight="normal" text-anchor="start" fill="#1a1a1a" textLength="53" lengthAdjust="spacingAndGlyphs" >[N]</text></g>
<text x="185.6" y="697" font-size="31" font-weight="bold" text-anchor="start" fill="#0a0a0a" textLength="36.9" lengthAdjust="spacingAndGlyphs" >1C</text>
<text x="248.5" y="697" font-size="31" font-weight="bold" text-anchor="start" fill="#0a0a0a" textLength="52.8" lengthAdjust="spacingAndGlyphs" >P01</text>
<text x="322.5" y="697" font-size="31" font-weight="bold" text-anchor="start" fill="#0a0a0a" textLength="52.1" lengthAdjust="spacingAndGlyphs" >P02</text>
<text x="392.8" y="697" font-size="31" font-weight="bold" text-anchor="start" fill="#0a0a0a" textLength="52.8" lengthAdjust="spacingAndGlyphs" >P03</text>
<text x="462.4" y="697" font-size="31" font-weight="bold" text-anchor="start" fill="#0a0a0a" textLength="64.6" lengthAdjust="spacingAndGlyphs" >1.5C</text>
<text x="538.2" y="642" font-size="31" font-weight="bold" text-anchor="start" fill="#0a0a0a" textLength="55.4" lengthAdjust="spacingAndGlyphs" >P04</text>
<text x="611" y="697.6" font-size="31" font-weight="bold" text-anchor="start" fill="#0a0a0a" textLength="55" lengthAdjust="spacingAndGlyphs" >P05</text>
<text x="686.2" y="697.6" font-size="31" font-weight="bold" text-anchor="start" fill="#0a0a0a" textLength="54.7" lengthAdjust="spacingAndGlyphs" >P01</text>
<text x="765.8" y="610" font-size="31" font-weight="bold" text-anchor="start" fill="#0a0a0a" textLength="38.0" lengthAdjust="spacingAndGlyphs" >2C</text>
<text x="822.4" y="399.5" font-size="31" font-weight="bold" text-anchor="start" fill="#0a0a0a" textLength="66.6" lengthAdjust="spacingAndGlyphs" >2.5C</text>
<text x="199" y="534" font-size="38" font-weight="normal" text-anchor="start" fill="#111" textLength="291" lengthAdjust="spacingAndGlyphs" >x = fast-charging</text>
<text x="199" y="586" font-size="38" font-weight="normal" text-anchor="start" fill="#111" textLength="359" lengthAdjust="spacingAndGlyphs" >o = normal-charging</text>
<text x="292" y="462" font-size="37" font-weight="normal" text-anchor="start" fill="#111" textLength="186" lengthAdjust="spacingAndGlyphs" >cycle time</text>
<g transform="translate(629,365) rotate(-90)"><text x="-1" y="0" font-size="40" font-weight="normal" text-anchor="start" fill="#222" textLength="260" lengthAdjust="spacingAndGlyphs" >swelling force</text></g>
</svg>
</body></html>
